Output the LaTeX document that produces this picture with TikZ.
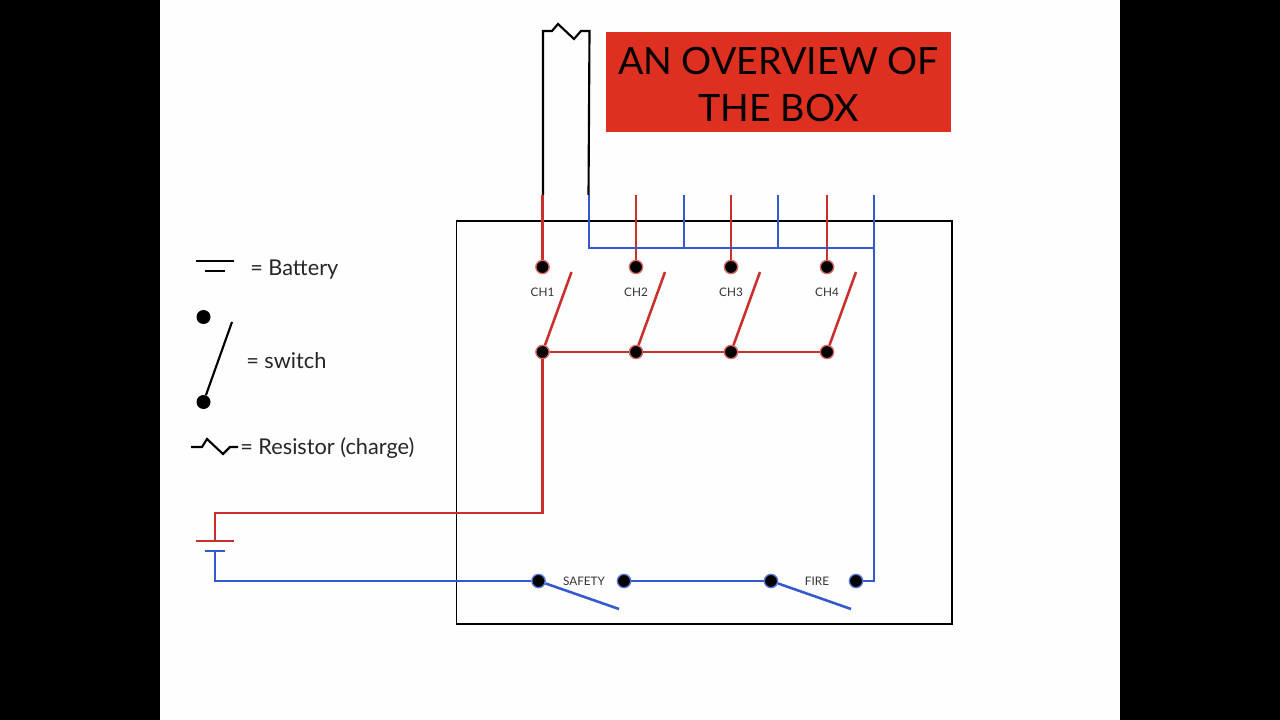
\documentclass[tikz,border=0pt]{standalone}
\usepackage{fontspec}
\setmainfont{Lato}
\definecolor{wirered}{HTML}{C9302C}
\definecolor{wireblue}{HTML}{3557CF}
\definecolor{titlered}{HTML}{DE3020}
\definecolor{labelgray}{HTML}{333333}
\tikzset{
    wire/.style = {line width = 1.9pt, line join = miter},
    redwire/.style = {wire, draw = wirered},
    bluewire/.style = {wire, draw = wireblue},
    blackwire/.style = {line width = 1.6pt, draw = black},
    reddot/.style = {circle, fill = black, draw = wirered!70, line width = 1pt, inner sep = 0pt, minimum size = 10pt},
    bluedot/.style = {circle, fill = black, draw = wireblue!80, line width = 1pt, inner sep = 0pt, minimum size = 10pt},
    blackdot/.style = {circle, fill = black, inner sep = 0pt, minimum size = 10.5pt},
    smalllabel/.style = {text = labelgray, font = \fontsize{8.8}{10}\selectfont, inner sep = 0pt},
    legendlabel/.style = {text = black!85, font = \fontsize{16.3}{18}\selectfont, anchor = west, inner sep = 0pt},
}
\begin{document}
\begin{tikzpicture}[x = 0.75pt, y = -0.75pt]
    \useasboundingbox (0, 0) rectangle (1280, 720);
    % Screen
    \fill [black] (0, 0) rectangle (1280, 720);
    \fill [white!99.5!black] (160, 0) rectangle (1120, 720);
    % Title
    \node (title) [fill = titlered, minimum width = 258.75pt, minimum height = 75pt, inner sep = 0pt, align = center,
        font = \fontsize{28.2}{35}\selectfont] at (778.5, 82) {\rule{0pt}{24pt}AN OVERVIEW OF\\THE BOX};
    % The box
    \draw [line width = 0.9pt] (456.5, 221) rectangle (952, 624);
    % Channels
    \foreach\n/\x in {1/542.5, 2/636, 3/731, 4/827} {
        \coordinate (T\n) at (\x, 195);
        \coordinate (A\n) at (\x + 29, 272);
        \node (U\n) [reddot] at (\x, 267) {};
        \node (D\n) [reddot] at (\x, 352) {};
        \node (L\n) [smalllabel] at (\x, 292) {CH\n};
        \draw [redwire] (T\n) -- (U\n);
        \draw [redwire] (D\n) -- (A\n);
    }
    \draw [redwire] (D1) -- (D2);
    \draw [redwire] (D2) -- (D3);
    \draw [redwire] (D3) -- (D4);
    % Blue comb
    \coordinate (B1) at (589, 195);
    \coordinate (B2) at (684, 195);
    \coordinate (B3) at (778, 195);
    \coordinate (B4) at (874, 195);
    \draw [bluewire] (B1) |- (B4 |- 0, 248) -- (B4);
    \draw [bluewire] (B2) -- (B2 |- 0, 248);
    \draw [bluewire] (B3) -- (B3 |- 0, 248);
    % Safety and fire
    \node (S1) [bluedot] at (538.5, 581) {};
    \node (S2) [bluedot] at (624, 581) {};
    \node (F1) [bluedot] at (771, 581) {};
    \node (F2) [bluedot] at (856, 581) {};
    \coordinate (SA) at (619, 609);
    \coordinate (FA) at (851, 609);
    \node (safety) [smalllabel] at (584, 581) {SAFETY};
    \node (fire) [smalllabel] at (817, 581) {FIRE};
    \draw [bluewire] (S1) -- (SA);
    \draw [bluewire] (F1) -- (FA);
    \draw [bluewire] (S2) -- (F1);
    \draw [bluewire] (F2) -| (B4);
    % Battery
    \coordinate (R1) at (215, 541);
    \coordinate (R2) at (215, 551);
    \draw [redwire] (196, 541) -- (234, 541);
    \draw [bluewire] (205, 551) -- (225, 551);
    \draw [redwire] (R1) |- (D1 |- 0, 513) -- (D1);
    \draw [bluewire] (R2) |- (S1);
    % Charge resistor
    \coordinate (C1) at (543, 195);
    \coordinate (C2) at (588.5, 195);
    \draw [blackwire] (C1) -- (543, 31) -- (552, 31) -- (558, 24) -- (574, 39) -- (581, 31)
        -- (589.5, 31) -- (C2);
    % Legend
    \draw [blackwire] (196, 261) -- (234, 261);
    \draw [blackwire] (205, 271) -- (225, 271);
    \node (lbattery) [legendlabel] at (250, 270) {= Battery};
    \node (LU) [blackdot] at (203.5, 317) {};
    \node (LD) [blackdot] at (203.5, 402) {};
    \coordinate (LA) at (232, 322);
    \draw [blackwire] (LD) -- (LA);
    \node (lswitch) [legendlabel] at (246, 361) {= switch};
    \draw [blackwire] (191, 447) -- (202, 447) -- (207, 439) -- (223, 454) -- (230, 447) -- (238, 447);
    \node (lresistor) [legendlabel] at (240, 448) {= Resistor (charge)};
\end{tikzpicture}
\end{document}
